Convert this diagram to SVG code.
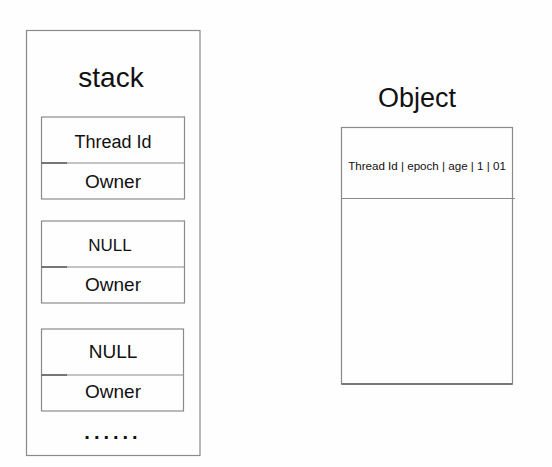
<svg xmlns="http://www.w3.org/2000/svg" width="552" height="467" viewBox="0 0 552 467">
<style>
.box{fill:none;stroke:#8a8a8a;stroke-width:1.2}
.div{stroke:#8a8a8a;stroke-width:1.2}
.tick{stroke:#555;stroke-width:1.4}
text{font-family:"Liberation Sans",Arial,sans-serif;fill:#111;text-anchor:middle}
</style>
<rect width="552" height="467" fill="#fefefe"/>
<g id="stack">
<rect class="box" x="26.5" y="30.5" width="173.5" height="425"/>
<text x="111" y="87" font-size="28">stack</text>
</g>
<g id="slot1">
<rect class="box" x="41.5" y="117" width="143" height="82"/>
<line class="div" x1="41.5" y1="163" x2="184.5" y2="163"/>
<line class="tick" x1="41.5" y1="163" x2="67" y2="163"/>
<text x="113" y="148" font-size="18">Thread Id</text>
<text x="113" y="188" font-size="19">Owner</text>
</g>
<g id="slot2">
<rect class="box" x="41.5" y="221" width="143" height="82"/>
<line class="div" x1="41.5" y1="267" x2="184.5" y2="267"/>
<line class="tick" x1="41.5" y1="267" x2="67" y2="267"/>
<text x="110" y="251" font-size="17">NULL</text>
<text x="113" y="291" font-size="19">Owner</text>
</g>
<g id="slot3">
<rect class="box" x="41.5" y="329" width="142" height="82"/>
<line class="div" x1="41.5" y1="375" x2="183.5" y2="375"/>
<line class="tick" x1="41.5" y1="375" x2="67" y2="375"/>
<text x="113" y="358" font-size="19">NULL</text>
<text x="113" y="398" font-size="19">Owner</text>
</g>
<g id="more">
<text x="113" y="439" font-size="20" font-weight="bold" letter-spacing="4">......</text>
</g>
<g id="object">
<text x="417" y="107" font-size="27">Object</text>
<rect class="box" x="341.5" y="127.5" width="171" height="256.5"/>
<line class="div" x1="341.5" y1="198.5" x2="515" y2="198.5"/>
<line x1="341.5" y1="384" x2="512.5" y2="384" stroke="#777" stroke-width="2"/>
<text x="427" y="170" font-size="11.6">Thread Id | epoch | age | 1 | 01</text>
</g>
<g id="connectors"></g>
</svg>
